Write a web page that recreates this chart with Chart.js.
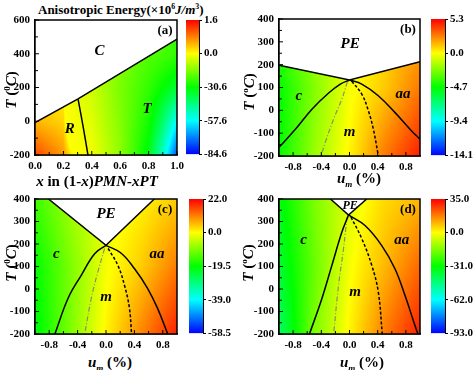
<!DOCTYPE html>
<html lang="en">
<head>
<meta charset="UTF-8">
<title>Anisotropic Energy phase diagrams</title>
<script src="https://cdn.jsdelivr.net/npm/chart.js@4.4.0/dist/chart.umd.min.js"></script>
<style>
  body { margin: 0; width: 474px; height: 370px; overflow: hidden; background: #fff; position: relative; font-family: "Liberation Serif", serif; }
  canvas, .lbl { position: absolute; }
  .lbl { font-weight: bold; white-space: nowrap; color: #000; line-height: 1; }
  .lbl sup, .lbl sub { font-size: 0.6em; line-height: 0; }
  .ylab { width: 60px; height: 16px; text-align: center; font-size: 15px; transform: rotate(-90deg); }
  .xlab { width: 160px; text-align: center; font-size: 15px; }
</style>
</head>
<body>
<div class="lbl" style="left:38px;top:3px;font-size:13px">Anisotropic Energy(×10<sup>6</sup><i>J/m</i><sup>3</sup>)</div>

<canvas id="pa" width="189" height="173" style="left:0;top:0"></canvas>
<canvas id="ca" width="53" height="153" style="left:186px;top:10px"></canvas>
<canvas id="pb" width="193" height="174" style="left:239px;top:0"></canvas>
<canvas id="cb" width="43" height="155" style="left:431px;top:9px"></canvas>
<canvas id="pc" width="189" height="167" style="left:0;top:185px"></canvas>
<canvas id="cc" width="54" height="153" style="left:189px;top:189px"></canvas>
<canvas id="pd" width="193" height="167" style="left:239px;top:185px"></canvas>
<canvas id="cd" width="43" height="153" style="left:431px;top:189px"></canvas>

<div class="lbl ylab" style="left:-18px;top:82px"><i>T</i> (<sup>0</sup><i>C</i>)</div>
<div class="lbl ylab" style="left:220px;top:84px"><i>T</i> (<sup>o</sup><i>C</i>)</div>
<div class="lbl ylab" style="left:-18px;top:255px"><i>T</i> (<sup>0</sup><i>C</i>)</div>
<div class="lbl ylab" style="left:219px;top:255px"><i>T</i> (<sup>o</sup><i>C</i>)</div>

<div class="lbl xlab" style="left:17px;top:174px"><i>x</i> in (1-<i>x</i>)<i>PMN-xPT</i></div>
<div class="lbl xlab" style="left:279px;top:171px"><i>u</i><sub><i>m</i></sub> (%)</div>
<div class="lbl xlab" style="left:30px;top:355px"><i>u</i><sub><i>m</i></sub> (%)</div>
<div class="lbl xlab" style="left:282px;top:355px"><i>u</i><sub><i>m</i></sub> (%)</div>

<script>
// ---- ticks ----
const xTicksA = [0, 0.2, 0.4, 0.6, 0.8, 1.0];
const xMinorA = [0.1, 0.3, 0.5, 0.7, 0.9];
const tTicksA = [-200, 0, 200, 400, 600];
const tMinorA = [-100, 100, 300, 500];
const uTicks = [-0.8, -0.4, 0, 0.4, 0.8];
const uMinor = [-0.6, -0.2, 0.2, 0.6];
const tTicks = [-200, -100, 0, 100, 200, 300, 400];
const tMinor = [-150, -50, 50, 150, 250, 350];

// colour bar labels, top to bottom
const barA = [1.6, 0.0, -30.6, -57.6, -84.6];
const barB = [5.3, 0.0, -4.7, -9.4, -14.1];
const barC = [22.0, 0.0, -19.5, -39.0, -58.5];
const barD = [35.0, 0.0, -31.0, -62.0, -93.0];

// ---- energy (rows = temperature) ----
const gridAx = [0, 0.2, 0.4, 0.6, 0.8, 0.9, 1.0];
const gridAT = [-200, 0, 200, 400, 600];
const gridA = [
  [1.15, 0.64, -1.2, -13.5, -32.8, -52.0, -76.0],
  [0.45, 0.26, -3.7, -14.7, -28.2, -41.4, -57.6],
  [0.2, 0.06, -6.1, -15.9, -24.5, -30.6, -36.0],
  [0.0, -1.2, -7.3, -14.7, -20.8, -22.0, -24.5],
  [0.0, -1.2, -7.3, -14.7, -20.8, -22.0, -24.5]
];
const gridU = [-1, -0.5, 0, 0.5, 1];
const gridT = [-200, 100, 400];
const gridB = [[-4.7, -1.9, 0.2, 2.8, 4.7], [-4.7, -2.3, -0.2, 1.1, 2.8], [-3.2, -1.5, -0.4, 0.8, 1.5]];
const gridC = [[-21.0, -10.1, 0.9, 10.6, 19.4], [-19.5, -10.1, -0.8, 4.4, 11.4], [-14.8, -7.0, -2.3, 0.9, 4.4]];
const gridD = [[-43.4, -16.1, 1.4, 18.2, 30.8], [-37.2, -18.6, -1.2, 9.8, 21.0], [-33.5, -16.1, -3.7, 4.9, 9.8]];

// ---- phase boundaries ----
const aCX = [0, 0.303, 1], aCT = [-8, 133, 486];
const aRX = [0.303, 0.338, 0.373], aRT = [133, -27, -200];

const bPeX = [-1, 0.0, 1], bPeT = [198, 133, 213];
const bCmX = [-1, -0.765, -0.53, -0.296, -0.13, 0.0], bCmT = [-162, -82, 6, 76, 115, 133];
const bMaX = [0.0, 0.174, 0.408, 0.643, 0.878, 1], bMaT = [133, 115, 64, -9, -89, -126];
const bDaX = [0.03, 0.174, 0.268, 0.338, 0.41], bDaT = [128, 71, -2, -82, -200];
const bDdX = [-0.03, -0.108, -0.225, -0.343, -0.404], bDdT = [125, 50, -38, -140, -200];

const cPeX = [-0.81, 0.0, 0.68], cPeT = [400, 194, 400];
const cCmX = [-0.72, -0.534, -0.347, -0.16, 0.0], cCmT = [-200, -41, 62, 157, 194];
const cMaX = [0.0, 0.21, 0.4, 0.585, 0.725, 0.87], cMaT = [194, 160, 91, 3, -85, -200];
const cDaX = [0.03, 0.166, 0.259, 0.33, 0.36], cDaT = [180, 106, 18, -85, -200];
const cDdX = [-0.02, -0.114, -0.207, -0.3], cDdT = [180, 77, -41, -200];

const dPeX = [-0.27, -0.014, 0.244], dPeT = [400, 329, 400];
const dCmX = [-0.568, -0.39, -0.249, -0.108, -0.014], dCmT = [-200, -41, 106, 253, 329];
const dMaX = [-0.014, 0.22, 0.455, 0.643, 0.784, 0.925, 0.97], dMaT = [329, 282, 194, 91, -26, -159, -200];
const dDaX = [0.02, 0.174, 0.315, 0.408, 0.465], dDaT = [320, 224, 106, -12, -200];
const dDdX = [-0.035, -0.085, -0.155, -0.225], dDdT = [320, 179, 18, -200];

// ---- region names ----
const aNames = ['C', 'R', 'T'], aNameX = [0.455, 0.245, 0.79], aNameT = [414, -47, 71];
const phNames = ['PE', 'c', 'aa', 'm'];
const bNameX = [0.01, -0.72, 0.76, 0.0], bNameT = [290, 64, 71, -96];
const cNameX = [0.0, -0.7, 0.72, 0.0], cNameT = [334, 157, 157, -34];
const dNameX = [0.01, -0.65, 0.74, 0.08], dNameT = [370, 216, 216, -12];

Chart.defaults.font.family = '"Liberation Serif", serif';
Chart.defaults.font.weight = 'bold';
Chart.defaults.font.size = 11;
Chart.defaults.color = '#000';

const jet = [[0, 0, 0, 255], [0.25, 0, 255, 255], [0.5, 0, 255, 0], [0.75, 255, 255, 0], [1, 255, 0, 0]];

function toPos(v, bar) {
  const n = bar.length - 1;
  if (v >= bar[0]) return 1;
  if (v <= bar[n]) return 0;
  for (let i = 0; i < n; i++) {
    if (v <= bar[i] && v >= bar[i + 1]) {
      return (n - 1 - i + (v - bar[i + 1]) / (bar[i] - bar[i + 1])) / n;
    }
  }
  return 0;
}

function jetColor(p) {
  for (let i = 0; i < jet.length - 1; i++) {
    const a = jet[i], b = jet[i + 1];
    if (p <= b[0]) {
      const f = (p - a[0]) / (b[0] - a[0]);
      return [a[1] + f * (b[1] - a[1]), a[2] + f * (b[2] - a[2]), a[3] + f * (b[3] - a[3])];
    }
  }
  return [255, 0, 0];
}

function seg(arr, v) {
  let i = 0;
  while (i < arr.length - 2 && v > arr[i + 1]) i++;
  const f = Math.min(1, Math.max(0, (v - arr[i]) / (arr[i + 1] - arr[i])));
  return [i, f];
}

function bilerp(gx, gt, g, x, t) {
  const [i, fx] = seg(gx, x);
  const [j, ft] = seg(gt, t);
  const lo = g[j][i] * (1 - fx) + g[j][i + 1] * fx;
  const hi = g[j + 1][i] * (1 - fx) + g[j + 1][i + 1] * fx;
  return lo * (1 - ft) + hi * ft;
}

function heatmap(gx, gt, g, bar) {
  return {
    id: 'heat',
    beforeDatasetsDraw(chart) {
      const { ctx, chartArea: a, scales: { x, y } } = chart;
      const l = Math.round(a.left), t = Math.round(a.top);
      const w = Math.round(a.right) - l, h = Math.round(a.bottom) - t;
      const img = ctx.createImageData(w, h);
      for (let py = 0; py < h; py++) {
        const T = y.getValueForPixel(t + py + 0.5);
        for (let px = 0; px < w; px++) {
          const X = x.getValueForPixel(l + px + 0.5);
          const c = jetColor(toPos(bilerp(gx, gt, g, X, T), bar));
          const k = (py * w + px) * 4;
          img.data[k] = c[0]; img.data[k + 1] = c[1]; img.data[k + 2] = c[2]; img.data[k + 3] = 255;
        }
      }
      ctx.putImageData(img, l, t);
    }
  };
}

// frame, inward ticks, region names and panel tag
function overlay(o) {
  return {
    id: 'overlay',
    afterDatasetsDraw(chart) {
      const { ctx, chartArea: a, scales: { x, y } } = chart;
      ctx.save();
      ctx.strokeStyle = '#000';
      ctx.lineWidth = 1;
      ctx.beginPath();
      const tickX = (vals, len) => {
        vals.forEach(v => { const px = x.getPixelForValue(v); ctx.moveTo(px, a.bottom); ctx.lineTo(px, a.bottom - len); });
      };
      const tickY = (vals, len) => {
        vals.forEach(v => { const py = y.getPixelForValue(v); ctx.moveTo(a.left, py); ctx.lineTo(a.left + len, py); });
      };
      tickX(o.xTicks, 4); tickX(o.xMinor, 3);
      tickY(o.tTicks, 4); tickY(o.tMinor, 3);
      ctx.stroke();
      ctx.lineWidth = 1.5;
      ctx.strokeRect(a.left, a.top, a.right - a.left, a.bottom - a.top);
      ctx.fillStyle = '#000';
      ctx.textAlign = 'center';
      ctx.textBaseline = 'middle';
      o.names.forEach((n, i) => {
        ctx.font = 'italic bold ' + (o.sizes ? o.sizes[i] : 15) + 'px "Liberation Serif"';
        ctx.fillText(n, x.getPixelForValue(o.nx[i]), y.getPixelForValue(o.nt[i]));
      });
      ctx.font = 'bold 13px "Liberation Serif"';
      ctx.fillText(o.tag, a.right - 12, a.top + 11);
      ctx.restore();
    }
  };
}

const pts = (xs, ts) => xs.map((v, i) => ({ x: v, y: ts[i] }));
const solid = (xs, ts) => ({ data: pts(xs, ts), borderColor: '#000', borderWidth: 1.5, tension: 0.4 });
const dashed = (xs, ts) => ({ data: pts(xs, ts), borderColor: '#000', borderWidth: 1.5, borderDash: [3, 2], tension: 0.4 });
const dashDot = (xs, ts) => ({ data: pts(xs, ts), borderColor: '#8f8f62', borderWidth: 1.2, borderDash: [5, 2, 1, 2], tension: 0.4 });
const paraEdge = (xs, ts) => ({ data: pts(xs, ts), borderColor: '#000', borderWidth: 1.5, tension: 0, fill: 'end', backgroundColor: '#fff' });

// tick marks are drawn inward by the overlay; these invisible ones only space the labels
const hiddenGrid = { display: true, drawOnChartArea: false, color: 'rgba(0,0,0,0)', tickLength: 3 };

function panel(id, o) {
  return new Chart(document.getElementById(id), {
    type: 'scatter',
    data: { datasets: o.lines.map(d => Object.assign({ showLine: true, pointRadius: 0, fill: false }, d)) },
    options: {
      responsive: false,
      animation: false,
      layout: { padding: { top: o.padTop, right: 12, left: 0, bottom: 0 } },
      plugins: { legend: { display: false }, tooltip: { enabled: false } },
      scales: {
        x: {
          type: 'linear', min: o.xMin, max: o.xMax,
          afterFit: s => { s.height = 18; },
          afterBuildTicks: s => { s.ticks = o.xTicks.map(v => ({ value: v })); },
          grid: hiddenGrid,
          border: { color: '#000', width: 1.5 },
          ticks: { autoSkip: false, maxRotation: 0, padding: 2, callback: v => v.toFixed(1) }
        },
        y: {
          type: 'linear', min: o.tMin, max: o.tMax,
          afterFit: s => { s.width = o.yW; },
          afterBuildTicks: s => { s.ticks = o.tTicks.map(v => ({ value: v })); },
          grid: hiddenGrid,
          border: { color: '#000', width: 1.5 },
          ticks: { autoSkip: false, padding: 2 }
        }
      }
    },
    plugins: [heatmap(o.gx, o.gt, o.grid, o.bar), overlay(o)]
  });
}

function colorBar(id, labels, w, top, bottom) {
  const n = labels.length - 1;
  return new Chart(document.getElementById(id), {
    type: 'bar',
    data: {
      labels: [''],
      datasets: [{
        data: [n],
        barPercentage: 1,
        categoryPercentage: 1,
        backgroundColor: c => {
          const a = c.chart.chartArea;
          if (!a) return null;
          const g = c.chart.ctx.createLinearGradient(0, a.bottom, 0, a.top);
          jet.forEach(s => g.addColorStop(s[0], `rgb(${s[1]},${s[2]},${s[3]})`));
          return g;
        }
      }]
    },
    options: {
      responsive: false,
      animation: false,
      layout: { padding: { top: top, bottom: bottom, left: 0, right: 0 } },
      plugins: { legend: { display: false }, tooltip: { enabled: false } },
      scales: {
        x: { display: false },
        y: {
          position: 'right', min: 0, max: n,
          afterFit: s => { s.width = w; },
          afterBuildTicks: s => { s.ticks = labels.map((_, i) => ({ value: i })); },
          grid: { display: true, drawOnChartArea: false, color: '#000', tickLength: 3 },
          border: { color: '#000', width: 1 },
          ticks: { autoSkip: false, padding: 2, callback: v => labels[n - v].toFixed(1) }
        }
      }
    }
  });
}

panel('pa', {
  xMin: 0, xMax: 1, tMin: -200, tMax: 600, xTicks: xTicksA, xMinor: xMinorA, tTicks: tTicksA, tMinor: tMinorA, padTop: 20, yW: 35,
  gx: gridAx, gt: gridAT, grid: gridA, bar: barA,
  lines: [paraEdge(aCX, aCT), solid(aRX, aRT)],
  names: aNames, nx: aNameX, nt: aNameT, tag: '(a)'
});
panel('pb', {
  xMin: -1, xMax: 1, tMin: -200, tMax: 400, xTicks: uTicks, xMinor: uMinor, tTicks: tTicks, tMinor: tMinor, padTop: 19, yW: 40,
  gx: gridU, gt: gridT, grid: gridB, bar: barB,
  lines: [paraEdge(bPeX, bPeT), solid(bCmX, bCmT), solid(bMaX, bMaT), dashed(bDaX, bDaT), dashDot(bDdX, bDdT)],
  names: phNames, nx: bNameX, nt: bNameT, tag: '(b)'
});
panel('pc', {
  xMin: -1, xMax: 1, tMin: -200, tMax: 400, xTicks: uTicks, xMinor: uMinor, tTicks: tTicks, tMinor: tMinor, padTop: 14, yW: 35,
  gx: gridU, gt: gridT, grid: gridC, bar: barC,
  lines: [paraEdge(cPeX, cPeT), solid(cCmX, cCmT), solid(cMaX, cMaT), dashed(cDaX, cDaT), dashDot(cDdX, cDdT)],
  names: phNames, nx: cNameX, nt: cNameT, tag: '(c)'
});
panel('pd', {
  xMin: -1, xMax: 1, tMin: -200, tMax: 400, xTicks: uTicks, xMinor: uMinor, tTicks: tTicks, tMinor: tMinor, padTop: 14, yW: 40,
  gx: gridU, gt: gridT, grid: gridD, bar: barD,
  lines: [paraEdge(dPeX, dPeT), solid(dCmX, dCmT), solid(dMaX, dMaT), dashed(dDaX, dDaT), dashDot(dDdX, dDdT)],
  names: phNames, nx: dNameX, nt: dNameT, tag: '(d)', sizes: [12, 15, 15, 15]
});

colorBar('ca', barA, 40, 10, 8);
colorBar('cb', barB, 29, 10, 8);
colorBar('cc', barC, 40, 10, 8);
colorBar('cd', barD, 29, 10, 8);
</script>
</body>
</html>
